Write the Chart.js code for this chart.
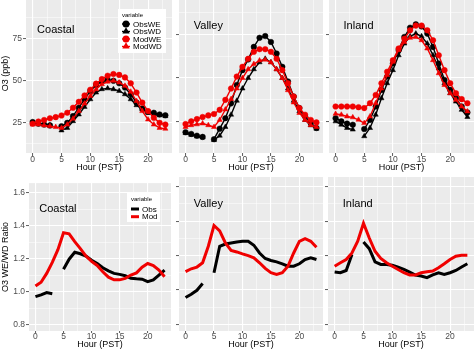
<!DOCTYPE html>
<html>
<head>
<meta charset="utf-8">
<script src="https://cdn.jsdelivr.net/npm/chart.js@4.4.1/dist/chart.umd.min.js"></script>
<style>
  body { margin: 0; background: #fff; overflow: hidden; }
  #wrap { position: relative; width: 474px; height: 351px; overflow: hidden; }
  #wrap canvas { position: absolute; }
</style>
</head>
<body>
<div id="wrap"></div>
<script>
// hours of the day
const hours = [0, 1, 2, 3, 4, 5, 6, 7, 8, 9, 10, 11, 12, 13, 14, 15, 16, 17, 18, 19, 20, 21, 22, 23];
const regions = ['Coastal', 'Valley', 'Inland'];

// O3 (ppb), weekend / weekday, observed / modelled
const coastalObsWE = [25.5, 24.5, 24, 23.5, null, 23, 25, 29, 34, 39, 44, 47.5, 49.5, 50.5, 50, 48.5, 46, 42, 37, 33.5, 31.5, 31, 30, 29.5];
const coastalObsWD = [25, 24.5, 24, 23.5, null, 20.5, 22, 26, 30, 34.5, 39, 43, 45, 45.5, 45, 44, 42, 39, 35.5, 33, 31, 30, 29.5, 29];
const coastalModWE = [24.5, 25.8, 26.7, 27.7, 28.4, 29.4, 31, 34, 37.5, 41.3, 44.7, 48.3, 51, 53, 54, 53.5, 52, 48.5, 43, 37, 32, 28, 25, 24];
const coastalModWD = [24, 24, 23.5, 23, 22.5, 22, 24, 27.5, 32, 36.5, 41, 45, 48, 49.5, 50, 49, 47, 43.5, 38, 32, 27, 24, 22, 21.5];

const valleyObsWE = [19, 18, 17, 16.3, null, 15, 21, 27, 35.5, 46, 54.5, 60.6, 67.8, 73, 74, 70.6, 64, 56.4, 48, 39.4, 32.8, 28, 24.2, 21.4];
const valleyObsWD = [18.5, 17.5, 16.5, 16, null, 14.5, 17, 22, 29, 37, 44, 50, 55, 59, 61, 59, 55, 50, 44, 37, 31, 26, 23, 21];
const valleyModWE = [23.7, 25.2, 26.5, 27.7, 28.6, 29.4, 31.8, 37.5, 44, 50.8, 56.4, 61, 65, 66.5, 66.5, 65, 61, 54.5, 47, 39.4, 32.8, 29, 26, 24.6];
const valleyModWD = [22, 23, 23.5, 24, 23, 22, 26, 32, 38, 44, 50, 55, 58, 60, 60.5, 59, 55, 50, 43, 36, 30, 26, 23, 22];

const inlandObsWE = [27, 25.2, 23.9, 23.3, null, 20.8, 26, 33.7, 43.2, 50.8, 58.3, 66, 73.5, 78.8, 80.7, 79.5, 75.4, 67.8, 58.3, 48.9, 43.2, 38.4, 33.7, 30.3];
const inlandObsWD = [25.2, 23.3, 21.4, 20.5, null, 16.7, 21.4, 29, 38.4, 47, 54.5, 63, 69.7, 73.9, 75.4, 73.9, 69.7, 63, 55.5, 47, 41.3, 36.5, 31.8, 27.7];
const inlandModWE = [33.7, 33.7, 33.7, 33.7, 33.3, 32.8, 35.6, 40.3, 47, 53.6, 60.2, 66.9, 72.5, 77.3, 80, 80, 77.3, 71.6, 63, 54.5, 47, 41.3, 37.9, 35.6];
const inlandModWD = [29.5, 29, 28, 27.5, 26.1, 24.2, 28, 35.6, 44, 51.7, 59.3, 66, 70.6, 73, 73.5, 71.6, 66.9, 60.2, 52.7, 46, 41.3, 37.5, 33.7, 30.9];

// O3 WE/WD ratio
const coastalObsRatio = [0.969, 0.98, 0.994, 0.987, null, 1.135, 1.196, 1.238, 1.229, 1.215, 1.19, 1.17, 1.144, 1.125, 1.11, 1.104, 1.096, 1.08, 1.077, 1.075, 1.06, 1.07, 1.1, 1.13];
const coastalModRatio = [1.033, 1.056, 1.11, 1.177, 1.254, 1.356, 1.35, 1.302, 1.26, 1.215, 1.183, 1.158, 1.12, 1.087, 1.071, 1.071, 1.08, 1.1, 1.113, 1.148, 1.17, 1.158, 1.13, 1.09];
const valleyObsRatio = [0.956, 0.975, 0.998, 1.037, null, 1.1, 1.254, 1.267, 1.273, 1.279, 1.283, 1.283, 1.26, 1.215, 1.183, 1.171, 1.163, 1.152, 1.138, 1.138, 1.152, 1.177, 1.187, 1.177];
const valleyModRatio = [1.106, 1.123, 1.133, 1.158, 1.254, 1.375, 1.344, 1.273, 1.23, 1.221, 1.21, 1.2, 1.187, 1.158, 1.125, 1.1, 1.09, 1.1, 1.138, 1.215, 1.283, 1.298, 1.283, 1.248];
const inlandObsRatio = [1.104, 1.1, 1.113, 1.206, null, 1.279, 1.24, 1.163, 1.148, 1.148, 1.144, 1.133, 1.119, 1.104, 1.087, 1.081, 1.071, 1.087, 1.1, 1.09, 1.1, 1.113, 1.133, 1.152];
const inlandModRatio = [1.138, 1.158, 1.177, 1.215, 1.283, 1.388, 1.302, 1.225, 1.183, 1.158, 1.138, 1.119, 1.1, 1.087, 1.087, 1.1, 1.106, 1.11, 1.129, 1.152, 1.177, 1.196, 1.202, 1.202];

// tick labels and minor grid positions
const xTicks = [0, 5, 10, 15, 20];
const xMinor = [2.5, 7.5, 12.5, 17.5, 22.5];
const ppbTicks = [25, 50, 75];
const ppbMinor = [12.5, 37.5, 62.5, 87.5];
const ratioTicks = [0.8, 1.0, 1.2, 1.4, 1.6];
const ratioMinor = [0.9, 1.1, 1.3, 1.5];

const FONT = '"Liberation Sans", Arial, sans-serif';
const RED = '#F00000';
const BLACK = '#000000';
const wrap = document.getElementById('wrap');

function series(label, values, color, style, width, radius, order) {
  return {
    label: label,
    data: hours.map((h, i) => ({ x: h, y: values[i] })),
    borderColor: color,
    backgroundColor: color,
    borderWidth: width,
    pointStyle: style,
    pointRadius: radius,
    pointBorderWidth: 0.5,
    spanGaps: false,
    tension: 0,
    order: order
  };
}

function tickScale(majors, minors, fmt) {
  return {
    afterBuildTicks: (s) => {
      s.ticks = majors.concat(minors).sort((a, b) => a - b).map(v => ({ value: v }));
    },
    label: (v) => majors.includes(v) ? fmt(v) : '',
    major: (ctx) => ctx.tick && majors.includes(ctx.tick.value)
  };
}

const bgPlugin = {
  id: 'panelBg',
  beforeDraw(chart) {
    const a = chart.chartArea, ctx = chart.ctx;
    ctx.save();
    ctx.fillStyle = '#EBEBEB';
    ctx.fillRect(a.left, a.top, a.right - a.left, a.bottom - a.top);
    ctx.restore();
  },
  afterDraw(chart) {
    const o = chart.options.plugins.panelBg;
    const ctx = chart.ctx;
    ctx.save();
    ctx.fillStyle = '#000';
    ctx.font = '11px ' + FONT;
    ctx.textAlign = 'center';
    ctx.textBaseline = 'middle';
    ctx.fillText(o.title, chart.scales.x.getPixelForValue(4), chart.scales.y.getPixelForValue(o.titleY));
    if (o.legend) drawLegend(ctx, o.legend);
    ctx.restore();
  }
};

function drawLegend(ctx, lg) {
  ctx.fillStyle = '#FFFFFF';
  ctx.fillRect(lg.x, lg.y, lg.w, lg.h);
  ctx.fillStyle = '#000';
  ctx.textAlign = 'left';
  ctx.textBaseline = 'middle';
  ctx.font = '6px ' + FONT;
  ctx.fillText('variable', lg.x + 4, lg.y + 6);
  ctx.font = '8px ' + FONT;
  lg.items.forEach((it, i) => {
    const y = lg.y + lg.first + i * lg.step;
    const kx = lg.x + 4;
    ctx.strokeStyle = it.color;
    ctx.fillStyle = it.color;
    ctx.lineWidth = it.lw;
    ctx.beginPath();
    ctx.moveTo(kx, y);
    ctx.lineTo(kx + 8, y);
    ctx.stroke();
    if (it.style) {
      Chart.helpers.drawPoint(ctx, { pointStyle: it.style, radius: 2.8, borderWidth: 0.5, rotation: 0 }, kx + 4, y);
    }
    ctx.fillStyle = '#000';
    ctx.fillText(it.label, kx + 11, y + 0.5);
  });
}

function panel(p) {
  const c = document.createElement('canvas');
  c.width = p.w; c.height = p.h;
  c.style.left = p.left + 'px'; c.style.top = p.top + 'px';
  c.style.width = p.w + 'px'; c.style.height = p.h + 'px';
  wrap.appendChild(c);

  const xs = tickScale(xTicks, xMinor, v => String(v));
  const ys = p.ratio ? tickScale(ratioTicks, ratioMinor, v => v.toFixed(1)) : tickScale(ppbTicks, ppbMinor, v => String(v));

  new Chart(c, {
    type: 'line',
    data: { datasets: p.datasets },
    options: {
      responsive: false,
      animation: false,
      devicePixelRatio: 1,
      layout: { padding: 0, autoPadding: false },
      plugins: {
        legend: { display: false },
        tooltip: { enabled: false },
        panelBg: { title: p.title, titleY: p.ratio ? 1.5 : 80, legend: p.legend }
      },
      scales: {
        x: {
          type: 'linear',
          min: -1.15, max: 24.15,
          afterBuildTicks: xs.afterBuildTicks,
          afterFit: (s) => { s.height = p.xh; },
          border: { display: false },
          grid: {
            color: '#FFFFFF',
            lineWidth: (ctx) => xs.major(ctx) ? 1.1 : 0.5,
            drawTicks: true,
            tickLength: p.tl,
            tickWidth: 0.8,
            tickColor: (ctx) => xs.major(ctx) ? '#333333' : 'rgba(0,0,0,0)'
          },
          ticks: {
            autoSkip: false, maxRotation: 0, padding: p.tp,
            color: '#4D4D4D', font: { family: FONT, size: 8.5 },
            callback: xs.label
          },
          title: {
            display: true, text: 'Hour (PST)', color: '#000',
            font: { family: FONT, size: 9 }, padding: { top: 0, bottom: p.titlePad }
          }
        },
        y: {
          type: 'linear',
          min: p.ratio ? 0.761 : 7.1,
          max: p.ratio ? 1.657 : 101.5,
          afterBuildTicks: ys.afterBuildTicks,
          afterFit: (s) => { s.width = p.yw; },
          border: { display: false },
          grid: {
            color: '#FFFFFF',
            lineWidth: (ctx) => ys.major(ctx) ? 1.1 : 0.5,
            drawTicks: true,
            tickLength: 3,
            tickWidth: 0.8,
            tickColor: (ctx) => ys.major(ctx) ? '#333333' : 'rgba(0,0,0,0)'
          },
          ticks: {
            display: p.first, padding: 1,
            color: '#4D4D4D', font: { family: FONT, size: 8.5 },
            callback: ys.label
          },
          title: {
            display: p.first, text: p.ratio ? 'O3 WE/WD Ratio' : 'O3 (ppb)', color: '#000',
            font: { family: FONT, size: 9 }, padding: { top: 0, bottom: 0 }
          }
        }
      }
    },
    plugins: [bgPlugin]
  });
}

const ppbSets = [
  [coastalObsWE, coastalObsWD, coastalModWE, coastalModWD],
  [valleyObsWE, valleyObsWD, valleyModWE, valleyModWD],
  [inlandObsWE, inlandObsWD, inlandModWE, inlandModWD]
];
const ratioSets = [
  [coastalObsRatio, coastalModRatio],
  [valleyObsRatio, valleyModRatio],
  [inlandObsRatio, inlandModRatio]
];

const topPos = [{ left: 0, w: 172, yw: 26 }, { left: 176, w: 147, yw: 3 }, { left: 326, w: 148, yw: 3 }];
const botPos = [{ left: 0, w: 171, yw: 29 }, { left: 176, w: 147, yw: 3 }, { left: 325, w: 149, yw: 3 }];

// legend boxes (canvas coordinates; top row canvas starts 12px above the page)
const ppbLegend = {
  x: 118, y: 21, w: 48, h: 44, first: 15, step: 7.5,
  items: [
    { label: 'ObsWE', color: BLACK, style: 'circle', lw: 1.4 },
    { label: 'ObsWD', color: BLACK, style: 'triangle', lw: 1.4 },
    { label: 'ModWE', color: RED, style: 'circle', lw: 1.4 },
    { label: 'ModWD', color: RED, style: 'triangle', lw: 1.4 }
  ]
};
const ratioLegend = {
  x: 127, y: 16, w: 33, h: 29, first: 16, step: 7.7,
  items: [
    { label: 'Obs', color: BLACK, style: null, lw: 3 },
    { label: 'Mod', color: RED, style: null, lw: 3 }
  ]
};

regions.forEach((name, i) => {
  const s = ppbSets[i];
  panel({
    title: name, ratio: false, first: i === 0,
    left: topPos[i].left, top: -12, w: topPos[i].w, h: 187, yw: topPos[i].yw,
    xh: 22, tl: 3, tp: -1, titlePad: 2,
    legend: i === 0 ? ppbLegend : null,
    datasets: [
      series('ObsWE', s[0], BLACK, 'circle', 1.4, 2.8, 4),
      series('ObsWD', s[1], BLACK, 'triangle', 1.4, 3, 3),
      series('ModWE', s[2], RED, 'circle', 1.4, 2.8, 2),
      series('ModWD', s[3], RED, 'triangle', 1.4, 3, 1)
    ]
  });
  const r = ratioSets[i];
  panel({
    title: name, ratio: true, first: i === 0,
    left: botPos[i].left, top: 177, w: botPos[i].w, h: 174, yw: botPos[i].yw,
    xh: 20, tl: 2, tp: -1, titlePad: 1,
    legend: i === 0 ? ratioLegend : null,
    datasets: [
      series('Obs', r[0], BLACK, 'circle', 3, 0, 2),
      series('Mod', r[1], RED, 'circle', 3, 0, 1)
    ]
  });
});
</script>
</body>
</html>
